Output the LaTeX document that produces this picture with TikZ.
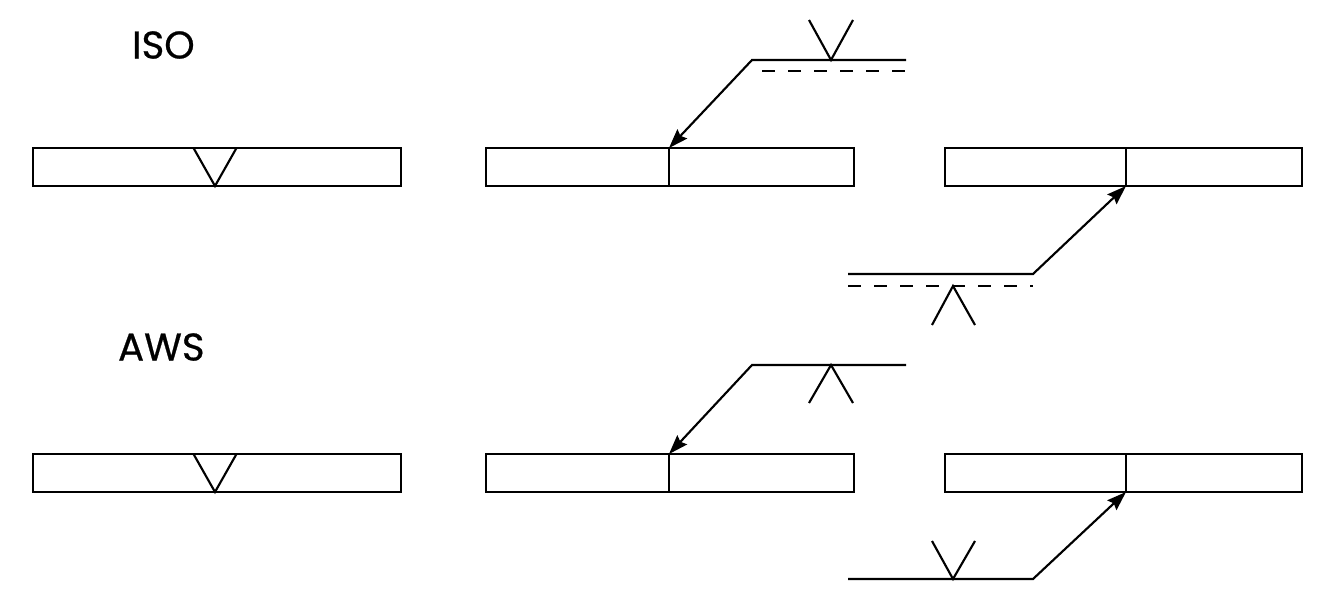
\documentclass[tikz,border=0pt]{standalone}
\usepackage{fontspec}
\setmainfont[FakeBold=0.6]{Poppins}
\usetikzlibrary{arrows.meta}

\tikzset{
  plate/.style={draw,anchor=north west,inner sep=0pt,outer sep=0pt,minimum height=28.5pt},
  leader/.style={-{Stealth[length=14.5pt,width=10pt,inset=2pt]}},
  seam/.style={line join=miter},
  dashline/.style={dash pattern=on 9.75pt off 9.75pt},
  title/.style={anchor=west,inner sep=0pt,font=\fontsize{29}{29}\selectfont},
}

\begin{document}
\begin{tikzpicture}[x=0.75pt,y=0.75pt,yscale=-1,xscale=1,line width=1.6pt,line cap=butt]
\useasboundingbox (0,0) rectangle (1317,599);

% Titles
\node [title] (isolabel) at (131,45) {ISO};
\node [title] (awslabel) at (117,347) {AWS};

% ISO plates
\node [plate,minimum width=276pt] (isoa) at (33,148) {};
\node [plate,minimum width=137pt] (isobl) at (486,148) {};
\node [plate,minimum width=139pt] (isobr) at (669,148) {};
\node [plate,minimum width=136pt] (isocl) at (945,148) {};
\node [plate,minimum width=132pt] (isocr) at (1126,148) {};

% AWS plates
\node [plate,minimum width=276pt] (awsa) at (33,454) {};
\node [plate,minimum width=137pt] (awsbl) at (486,454) {};
\node [plate,minimum width=139pt] (awsbr) at (669,454) {};
\node [plate,minimum width=136pt] (awscl) at (945,454) {};
\node [plate,minimum width=132pt] (awscr) at (1126,454) {};

% Joint grooves
\draw [seam] (193.5,148) -- (215,186) -- (236.5,148);
\draw [seam] (193.5,454) -- (215,492) -- (236.5,454);

% ISO arrow side
\coordinate (isobknee) at (752,60);
\coordinate (isobend) at (906,60);
\draw [leader] (isobend) -- (isobknee) -- (isobr.north west);
\draw [dashline] (762,71) -- (906,71);
\draw [seam] (809,20) -- (831,60) -- (853,20);

% ISO other side
\coordinate (isocknee) at (1033,274);
\coordinate (isocend) at (848,274);
\draw [leader] (isocend) -- (isocknee) -- (isocr.south west);
\draw [dashline] (848,286) -- (1033,286);
\draw [seam] (932,325) -- (953,286) -- (975,325);

% AWS arrow side
\coordinate (awsbknee) at (752,365);
\coordinate (awsbend) at (906,365);
\draw [leader] (awsbend) -- (awsbknee) -- (awsbr.north west);
\draw [seam] (809,403) -- (831,365) -- (853,403);

% AWS other side
\coordinate (awscknee) at (1033,579);
\coordinate (awscend) at (848,579);
\draw [leader] (awscend) -- (awscknee) -- (awscr.south west);
\draw [seam] (932,541) -- (953,579) -- (975,541);

\end{tikzpicture}
\end{document}
